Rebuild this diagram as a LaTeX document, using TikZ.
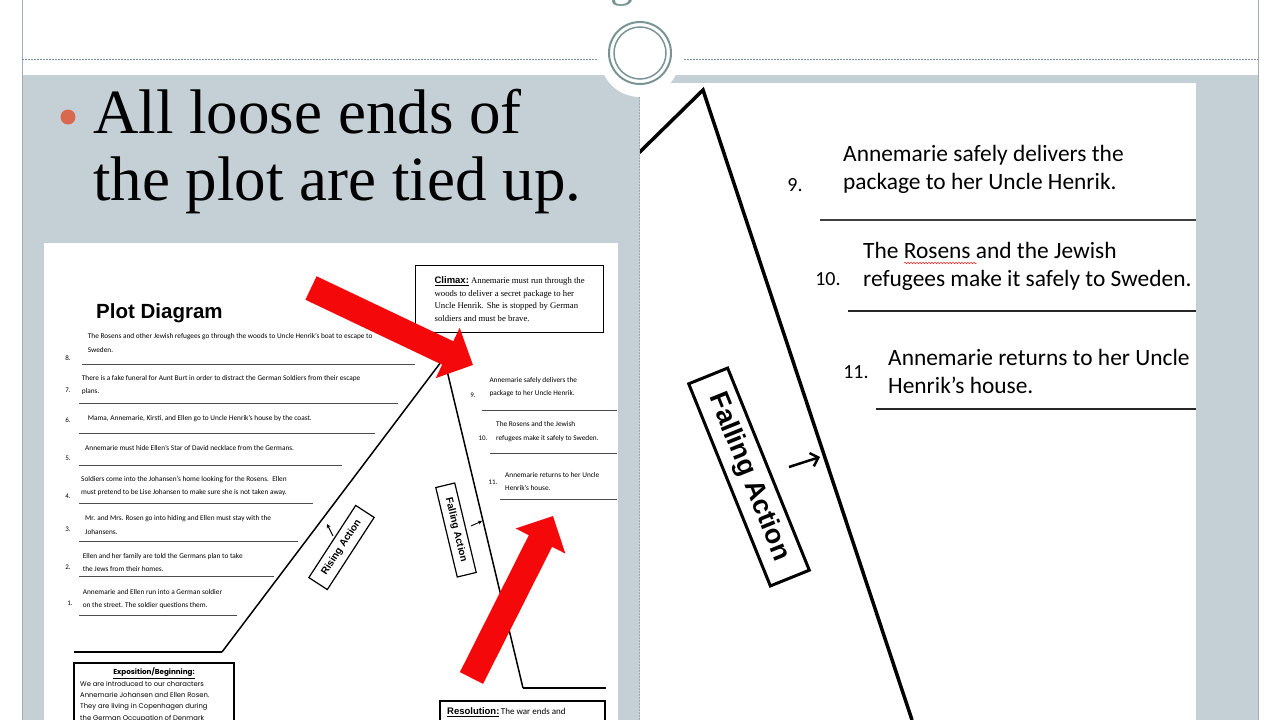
\documentclass[tikz,border=0pt]{standalone}
\usepackage{fontspec}
\setmainfont{Liberation Serif}
\newfontfamily\calib{Carlito}
\newfontfamily\arialf{Liberation Sans}
\newfontfamily\gothic{Poppins}
\usetikzlibrary{arrows.meta,decorations.pathmorphing}
\definecolor{slidegrey}{HTML}{C5D0D6}
\definecolor{ringteal}{HTML}{7A9496}
\definecolor{bulletred}{HTML}{D8694E}
\definecolor{rulegrey}{HTML}{9FADB2}
\definecolor{arrowred}{HTML}{F5080A}
\tikzset{
  evsmall/.style={anchor=west,inner sep=0pt,align=left,font=\calib\fontsize{7.3}{13.3}\selectfont},
  numsmall/.style={inner sep=0pt,font=\calib\fontsize{7}{8}\selectfont},
  evbig/.style={anchor=west,inner sep=0pt,align=left,font=\calib\fontsize{23.4}{28}\selectfont},
  numbig/.style={inner sep=0pt,font=\calib\fontsize{20}{24}\selectfont},
  bigserif/.style={anchor=base west,inner sep=0pt,font=\fontsize{63}{67}\selectfont},
  tagbox/.style={draw,line width=1.2pt,fill=white,inner sep=0pt,font=\arialf\bfseries\fontsize{10}{12}\selectfont},
  redarrow/.style={draw=arrowred,line width=26pt,-{Triangle[length=28pt,width=54pt]}},
  ruled/.style={draw=black!70,line width=0.9pt},
}
\begin{document}
\begin{tikzpicture}[x=1pt,y=-1pt]
  \useasboundingbox (0,0) rectangle (1280,720);
  % slide frame
  \fill[white] (0,0) rectangle (1280,720);
  \node[anchor=base,inner sep=0pt,text=ringteal,font=\fontsize{46}{50}\selectfont] (ttl) at (622,-3) {g};
  \fill[slidegrey] (22,75) rectangle (1258,720);
  \fill[white] (640,83) rectangle (1196,720);
  \fill[white] (640,57) circle[radius=40];
  \draw[rulegrey] (22,0) -- (22,720) (1258,0) -- (1258,720);
  \draw[rulegrey,dash pattern=on 2pt off 1pt,line width=0.6pt] (639.5,97) -- (639.5,720);
  \draw[ringteal,line width=0.8pt,dash pattern=on 2pt off 1pt] (22,59) -- (598,59) (684,59) -- (1258,59);
  \draw[ringteal,line width=2pt] (640,53) circle[radius=31];
  \draw[ringteal,line width=1.5pt] (640,53) circle[radius=26];

  % bullet
  \fill[bulletred] (68,117) circle[radius=7.5];
  \node[bigserif] (loose1) at (93,133) {All loose ends of};
  \node[bigserif] (loose2) at (93,200) {the plot are tied up.};

  % small plot diagram
  \fill[white] (44,243) rectangle (618,720);
  \node[anchor=west,inner sep=0pt,font=\arialf\bfseries\fontsize{20.5}{24}\selectfont] (ptitle) at (96,313) {Plot Diagram};
  \node[draw,line width=1.3pt,anchor=north west,minimum width=188,minimum height=67,align=left,inner sep=0pt,
        font=\fontsize{8.7}{12.4}\selectfont] (climax) at (415,265)
    {{\arialf\bfseries\fontsize{9.5}{12}\selectfont\underline{Climax:}} Annemarie must run through the\\
     woods to deliver a secret package to her\\
     Uncle Henrik. She is stopped by German\\
     soldiers and must be brave.};

  \foreach \i/\nx/\ny/\tx/\ty/\lx/\rx/\ly/\txt in {
    8/68/358/87.7/342.9/81.7/415/364.3/{The Rosens and other Jewish refugees go through the woods to Uncle Henrik’s boat to escape to\\Sweden.},
    7/68/390/81.7/385.3/79/398/403.3/{There is a fake funeral for Aunt Burt in order to distract the German Soldiers from their escape\\plans.},
    6/68/420/87.7/418.3/79/375/433.3/{Mama, Annemarie, Kirsti, and Ellen go to Uncle Henrik’s house by the coast.},
    5/68/458/85/448.3/79/341.7/465/{Annemarie must hide Ellen’s Star of David necklace from the Germans.},
    4/68/496/81/486/79/312.7/503.3/{Soldiers come into the Johansen’s home looking for the Rosens.\ \ Ellen\\must pretend to be Lise Johansen to make sure she is not taken away.},
    3/68/529/85/525/79/297.7/541/{Mr. and Mrs. Rosen go into hiding and Ellen must stay with the\\Johansens.},
    2/68/567/82.7/562.5/79/274.3/576.7/{Ellen and her family are told the Germans plan to take\\the Jews from their homes.},
    1/70/603/82.7/599.3/79/236.7/615/{Annemarie and Ellen run into a German soldier\\on the street. The soldier questions them.},
    9/473/395/489.3/387/481.7/617/410.7/{Annemarie safely delivers the\\package to her Uncle Henrik.},
    10/483/438.3/496/431.7/490/617/453.3/{The Rosens and the Jewish\\refugees make it safely to Sweden.},
    11/493/482.7/505/481.3/500/617/499/{Annemarie returns to her Uncle\\Henrik’s house.}} {
    \node[numsmall] (n\i) at (\nx,\ny) {\i.};
    \node[evsmall] (ev\i) at (\tx,\ty) {\txt};
    \draw[ruled] (\lx,\ly) -- (\rx,\ly);
  }

  % plot line
  \coordinate (baseL) at (74,652);
  \coordinate (foot) at (222,652);
  \coordinate (peak) at (444,358);
  \coordinate (drop) at (523,688);
  \coordinate (endR) at (606,688);
  \draw[line width=2.2pt] (baseL) -- (foot);
  \draw[line width=1.5pt] (foot) -- (peak) -- (drop);
  \draw[line width=2pt] (drop) -- (endR);

  \node[tagbox,rotate=57,minimum width=86,minimum height=22] (risetag) at (341.5,547.5) {Rising Action};
  \node[tagbox,rotate=-76.5,minimum width=92,minimum height=19.5] (falltag) at (456,530) {Falling Action};
  \draw[-{Stealth[length=4pt,width=4pt]},line width=0.9pt] (333,536) -- (327,524);
  \draw[-{Stealth[length=4pt,width=4pt]},line width=0.9pt] (471,526) -- (482,521);

  \draw[line width=1.5pt] (74,663) rectangle (234,730);
  \node[inner sep=0pt,font=\gothic\bfseries\fontsize{7.2}{9}\selectfont] (expo) at (154,673) {\underline{Exposition/Beginning:}};
  \node[anchor=north west,inner sep=0pt,align=left,font=\gothic\fontsize{6.8}{11.3}\selectfont] (expotxt) at (80,681)
    {We are introduced to our characters\\Annemarie Johansen and Ellen Rosen.\\They are living in Copenhagen during\\the German Occupation of Denmark};

  \draw[line width=1.5pt] (440,701) rectangle (605,730);
  \node[anchor=west,inner sep=0pt,font=\calib\fontsize{9}{11}\selectfont] (resol) at (447,712.5)
    {{\arialf\bfseries\fontsize{9.5}{11}\selectfont\underline{Resolution:}}\,The war ends and};

  % red arrows
  \coordinate (rt1) at (311,288);
  \coordinate (rh1) at (473,365);
  \coordinate (rt2) at (471.5,678);
  \coordinate (rh2) at (553,516);
  \draw[redarrow] (rt1) -- (rh1);
  \draw[redarrow] (rt2) -- (rh2);

  % zoomed falling action
  \begin{scope}
    \clip (640,83) rectangle (1196,720);
    \coordinate (bpeak) at (703,90);
    \draw[line width=3.5pt] (600,191) -- (bpeak) -- (912,720);
  \end{scope}
  \node[draw,line width=3pt,fill=white,rotate=-68,minimum width=218,minimum height=42,inner sep=0pt,
        font=\arialf\bfseries\fontsize{27}{30}\selectfont] (falltagbig) at (749,477) {Falling Action};
  \draw[-{Straight Barb[length=7pt,width=14pt]},line width=2.5pt] (789,467) -- (820,457);

  \node[numbig] (b9) at (795,185) {9.};
  \node[evbig] (bev9) at (843,169) {Annemarie safely delivers the\\package to her Uncle Henrik.};
  \draw[line width=2pt,black!75] (820,220) -- (1196,220);
  \node[numbig] (b10) at (828,279) {10.};
  \node[evbig] (bev10) at (863,266) {The Rosens and the Jewish\\refugees make it safely to Sweden.};
  \draw[red,decorate,decoration={snake,amplitude=0.8pt,segment length=3pt}] (904,263) -- (977,263);
  \draw[line width=2pt,black!85] (848,311) -- (1196,311);
  \node[numbig] (b11) at (856,372) {11.};
  \node[evbig] (bev11) at (888,371) {Annemarie returns to her Uncle\\Henrik’s house.};
  \draw[line width=2pt,black!85] (876,409) -- (1196,409);
\end{tikzpicture}
\end{document}
